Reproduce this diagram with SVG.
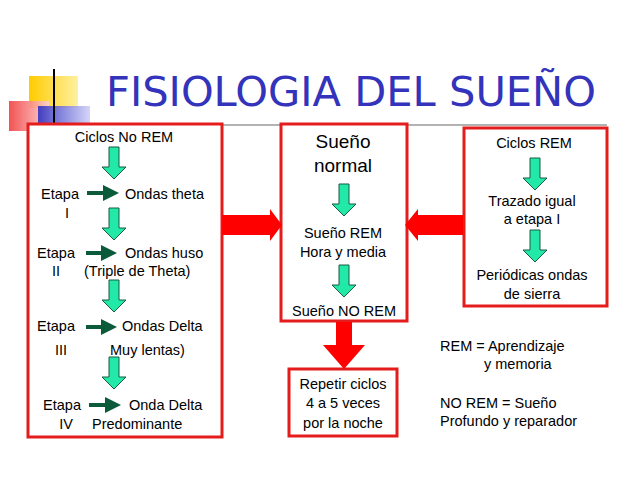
<svg xmlns="http://www.w3.org/2000/svg" width="638" height="479" viewBox="0 0 638 479">
<defs>
<linearGradient id="gy" x1="0" x2="1"><stop offset="0" stop-color="#ffcc00"/><stop offset="1" stop-color="#fff0a0"/></linearGradient>
<linearGradient id="gr" x1="0" x2="1"><stop offset="0" stop-color="#f04040"/><stop offset="1" stop-color="#ffd0d0"/></linearGradient>
<linearGradient id="gb" x1="0" x2="1"><stop offset="0" stop-color="#3030c0"/><stop offset="1" stop-color="#d0d0f8"/></linearGradient>
<marker id="dg" markerWidth="4" markerHeight="4" refX="3" refY="2" orient="auto"><path d="M0,0L4,2L0,4z" fill="#0b5a3a"/></marker>
<g id="ga"><path d="M-5,0H5V20H12L0,32L-12,20H-5z" fill="#22e8a8" stroke="#1a5a40" stroke-width="1"/></g>
</defs>
<style>
text{font-family:"Liberation Sans",Arial,sans-serif;font-size:14.5px;fill:#000}
.box{fill:#fff;stroke:#e41c1c;stroke-width:3}
.h{stroke:#0b5a3a;stroke-width:4;marker-end:url(#dg)}
.c{text-anchor:middle}
</style>
<rect width="638" height="479" fill="#fff"/>
<rect x="29" y="76" width="49" height="32" fill="url(#gy)"/>
<rect x="9" y="101" width="40" height="30" fill="url(#gr)" opacity="0.9"/>
<rect x="38" y="106" width="52" height="33" fill="url(#gb)" opacity="0.9"/>
<line x1="54" y1="69" x2="54" y2="143" stroke="#000" stroke-width="2"/>
<line x1="222" y1="125" x2="607" y2="125" stroke="#999" stroke-width="1.5"/>
<text x="106" y="106" textLength="490" lengthAdjust="spacingAndGlyphs" style="font-family:'DejaVu Sans',sans-serif;font-size:40px;fill:#3333bb">FISIOLOGIA DEL SUEÑO</text>
<g id="left">
<rect class="box" x="28" y="124" width="194" height="313"/>
<text x="124" y="142" class="c">Ciclos No REM</text>
<use href="#ga" x="114" y="147"/>
<text x="60" y="199" class="c">Etapa</text><text x="67" y="218" class="c">I</text>
<text x="125" y="199">Ondas theta</text>
<use href="#ga" x="114" y="208"/>
<text x="56" y="258" class="c">Etapa</text><text x="56" y="276" class="c">II</text>
<text x="125" y="258">Ondas huso</text><text x="84" y="276">(Triple de Theta)</text>
<use href="#ga" x="114" y="280"/>
<text x="56" y="331" class="c">Etapa</text><text x="61" y="355" class="c">III</text>
<text x="122" y="331">Ondas Delta</text><text x="110" y="355">Muy lentas)</text>
<use href="#ga" x="114" y="357"/>
<text x="62" y="410" class="c">Etapa</text><text x="66" y="429" class="c">IV</text>
<text x="129" y="410">Onda Delta</text><text x="92" y="429">Predominante</text>
</g>
<g id="center">
<rect class="box" x="281" y="124" width="126" height="197"/>
<text x="343" y="148" class="c" style="font-size:19px">Sueño</text>
<text x="343" y="172" class="c" style="font-size:19px">normal</text>
<use href="#ga" x="344" y="184"/>
<text x="343" y="238" class="c">Sueño REM</text>
<text x="343" y="257" class="c">Hora y media</text>
<use href="#ga" x="344" y="265"/>
<text x="344" y="316" class="c">Sueño NO REM</text>
</g>
<g id="right">
<rect class="box" x="464" y="128" width="143" height="178"/>
<text x="534" y="148" class="c">Ciclos REM</text>
<use href="#ga" x="535" y="158"/>
<text x="532" y="206" class="c">Trazado igual</text>
<text x="532" y="224" class="c">a etapa I</text>
<use href="#ga" x="535" y="230"/>
<text x="532" y="280" class="c">Periódicas ondas</text>
<text x="532" y="299" class="c">de sierra</text>
</g>
<g id="repetir">
<rect class="box" x="289" y="369" width="108" height="67"/>
<text x="343" y="389" class="c">Repetir ciclos</text>
<text x="343" y="408" class="c">4 a 5 veces</text>
<text x="343" y="428" class="c">por la noche</text>
</g>
<g id="notes">
<text x="440" y="351">REM = Aprendizaje</text>
<text x="484" y="369">y memoria</text>
<text x="440" y="408">NO REM = Sueño</text>
<text x="440" y="426">Profundo y reparador</text>
</g>
<g id="connectors">
<line class="h" x1="87" y1="193" x2="115" y2="193"/>
<line class="h" x1="86" y1="253" x2="113" y2="253"/>
<line class="h" x1="86" y1="327" x2="113" y2="327"/>
<line class="h" x1="89" y1="405" x2="117" y2="405"/>
<path d="M222,215H270V209L282,225L270,241V235H222z" fill="#f00"/>
<path d="M463,215H418V209L405,225L418,241V235H463z" fill="#f00"/>
<path d="M336,322H352V345H365L344,369L323,345H336z" fill="#f00"/>
</g>
</svg>
